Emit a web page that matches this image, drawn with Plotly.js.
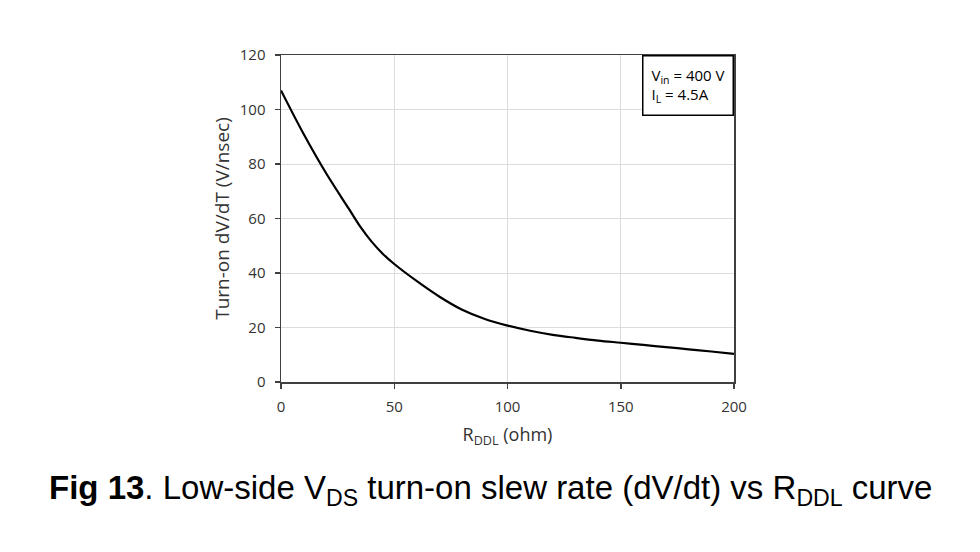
<!DOCTYPE html>
<html>
<head>
<meta charset="utf-8">
<script src="https://cdn.plot.ly/plotly-3.0.1.min.js"></script>
<style>html,body{margin:0;padding:0;background:#fff;}#chart{width:980px;height:552px;}</style>
</head>
<body>
<div id="chart"></div>
<script>
const rddl = [0,10,20,30,35,40,45,50,60,70,80,90,100,110,120,130,140,150,160,170,180,190,200];
const dvdt = [107,91,76.5,63.5,57,51.5,47,43.3,37,31.3,26.5,23.1,20.7,18.8,17.3,16.2,15.2,14.4,13.6,12.8,12,11.2,10.3];
const xTicks = [0,50,100,150,200];
const yTicks = [0,20,40,60,80,100,120];

const tickFont = {family: "Open Sans, DejaVu Sans, sans-serif", size: 15, color: "#333333"};
const axisCommon = {
  showline: true, linecolor: "#404040", linewidth: 1.5, mirror: true,
  ticks: "outside", ticklen: 5, tickcolor: "#404040", tickwidth: 1.5,
  showgrid: true, gridcolor: "#dcdcdc", gridwidth: 1,
  zeroline: false, tickfont: tickFont
};

const trace = {
  x: rddl, y: dvdt, type: "scatter", mode: "lines",
  line: {color: "#000000", width: 2.2, shape: "spline", smoothing: 1},
  hoverinfo: "skip"
};

const layout = {
  width: 980, height: 552,
  margin: {l: 281, r: 246, t: 55, b: 170},
  paper_bgcolor: "#ffffff", plot_bgcolor: "#ffffff",
  showlegend: false,
  xaxis: Object.assign({}, axisCommon, {
    range: [0, 200], tickvals: xTicks, ticktext: xTicks.map(String),
    ticklabelstandoff: 5,
    title: {text: "R<sub>DDL</sub> (ohm)", font: {family: "Open Sans, DejaVu Sans, sans-serif", size: 18, color: "#333333"}, standoff: 14}
  }),
  yaxis: Object.assign({}, axisCommon, {
    range: [0, 120], tickvals: yTicks, ticktext: yTicks.map(String),
    ticklabelstandoff: 6,
    title: {text: "Turn-on dV/dT (V/nsec)", font: {family: "Open Sans, DejaVu Sans, sans-serif", size: 19, color: "#333333"}, standoff: 5}
  }),
  annotations: [
    {
      xref: "paper", yref: "paper", x: 1, y: 1, xanchor: "right", yanchor: "top",
      text: "V<sub>in</sub> = 400 V<br>I<sub>L</sub> = 4.5A", align: "left", showarrow: false,
      font: {family: "Open Sans, DejaVu Sans, sans-serif", size: 15, color: "#000"},
      bordercolor: "#000", borderwidth: 1.5, borderpad: 8, bgcolor: "#fff"
    },
    {
      xref: "paper", yref: "paper", x: 0, y: 0, xanchor: "center", yanchor: "middle",
      xshift: 490 - 281, yshift: 382 - 490,
      text: "<b>Fig 13</b>. Low-side V<sub>DS</sub> turn-on slew rate (dV/dt) vs R<sub>DDL</sub> curve",
      showarrow: false,
      font: {family: "Liberation Sans, Arial, sans-serif", size: 33, color: "#000"}
    }
  ]
};

Plotly.newPlot("chart", [trace], layout, {staticPlot: true, displayModeBar: false});
</script>
</body>
</html>
